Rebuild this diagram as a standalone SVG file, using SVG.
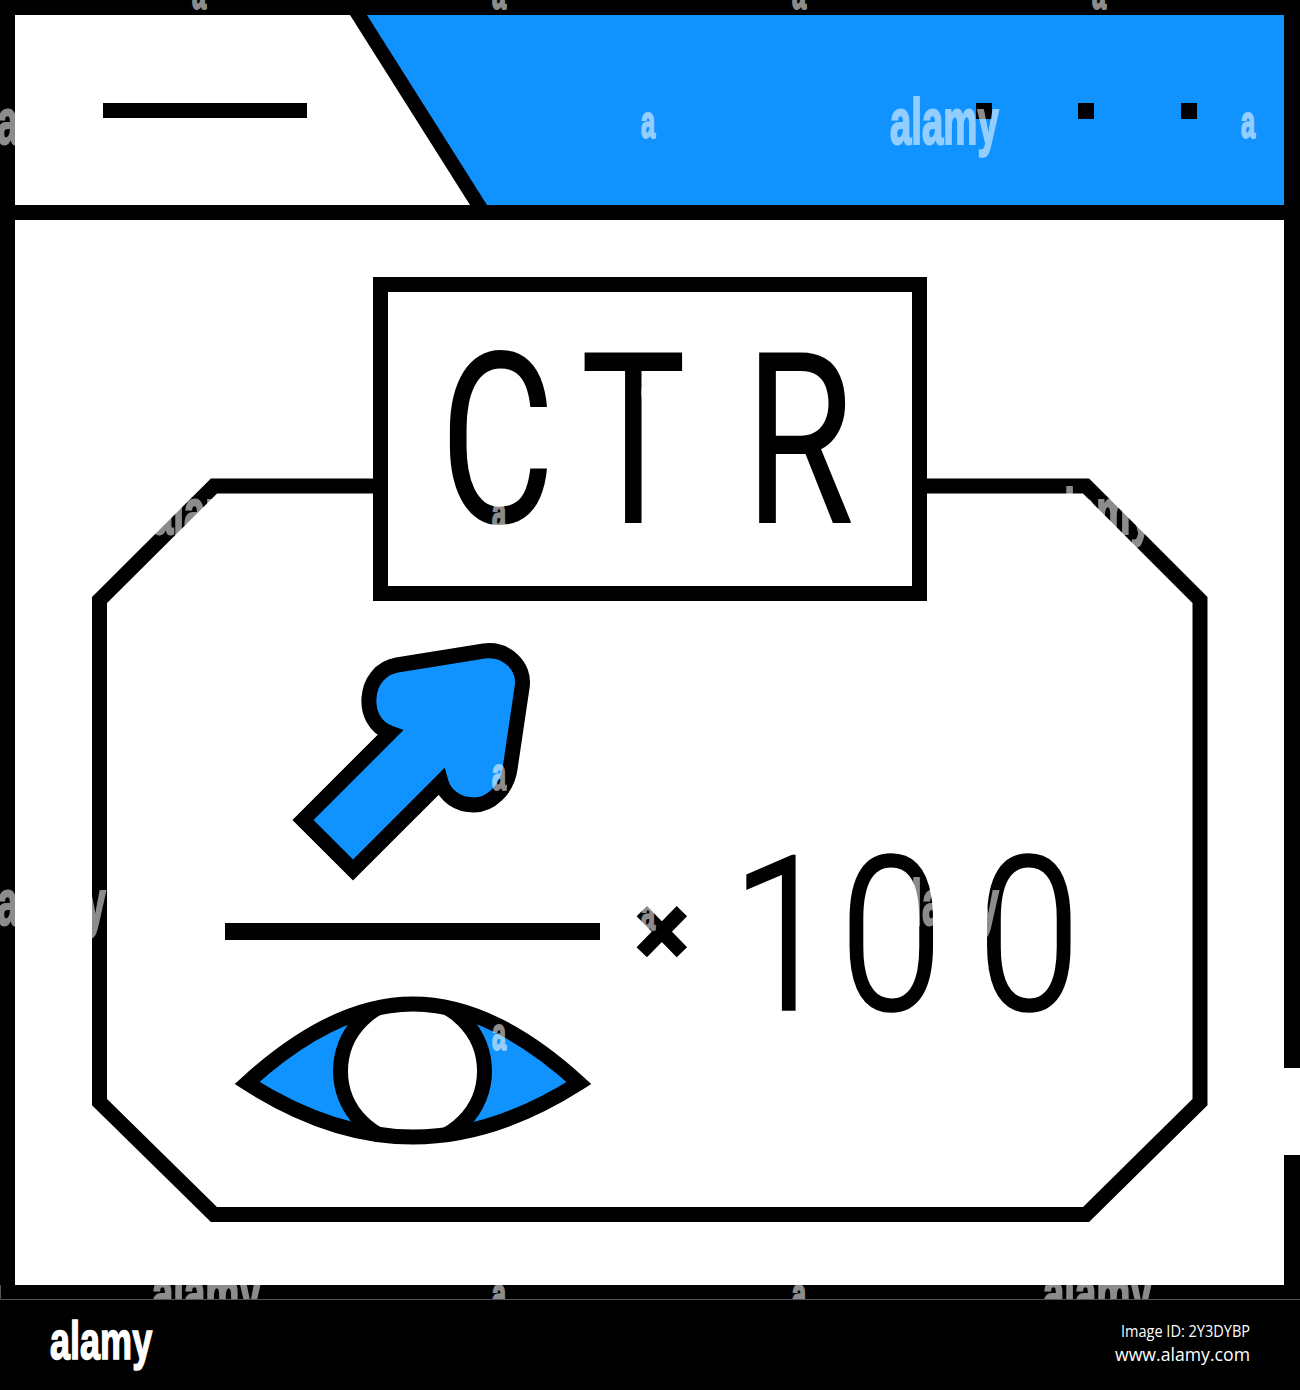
<svg xmlns="http://www.w3.org/2000/svg" width="1300" height="1390" viewBox="0 0 1300 1390">
<style>
.ln{fill:none;stroke:#000;stroke-width:15;stroke-linejoin:miter}
.bl{fill:#1193ff}
.k{fill:#000}
.gl{font-family:Roboto,"Liberation Sans",sans-serif;fill:#000}
.wm{font-family:"Liberation Sans",sans-serif;font-weight:700;fill:#fff;stroke:#fff;stroke-width:2;opacity:.55}
.ft{font-family:"Open Sans","Liberation Sans",sans-serif;fill:#fff}
</style>
<defs>
<path id="eyeShape" d="M247,1083C305,1030 360,1004 413,1004C466,1004 521,1030 579,1083C521,1120 466,1137 413,1137C360,1137 305,1120 247,1083Z"/>
<clipPath id="eyeClip"><use href="#eyeShape"/></clipPath>
<clipPath id="imgClip"><rect width="1300" height="1299"/></clipPath>
</defs>
<rect width="1300" height="1390" fill="#fff"/>
<g id="window">
<path class="bl" d="M359,15H1284V212H481Z"/>
<path class="k" d="M0,0H1300V1068H1284V15H15V1285H1284V1155H1300V1390H0Z"/>
<rect class="k" x="15" y="205" width="1269" height="15"/>
<path class="k" d="M350,15H367L487,205H470Z"/>
<rect class="k" x="103" y="103" width="204" height="15"/>
<rect class="k" x="976" y="103" width="16" height="16"/>
<rect class="k" x="1078" y="103" width="16" height="16"/>
<rect class="k" x="1181" y="103" width="16" height="16"/>
</g>
<g id="frame">
<path class="ln" d="M214,486H1086L1200,600V1102L1086,1214.5H214L99.5,1102V600Z"/>
</g>
<g id="ctr-box">
<rect x="380.5" y="284.5" width="539" height="309" fill="#fff" stroke="#000" stroke-width="15"/>
<text class="gl" font-size="240" transform="translate(0,523) scale(.74,1)" x="594 784 1006">CTR</text>
</g>
<g id="arrow">
<path class="bl" stroke="#000" stroke-width="15" d="M303,820L390,733C374,727 368,712 369,698C370,682 380,668 397,665L484,651C506,648 526,666 522,688L510,769C507,790 490,805 474,805C458,805 445,796 441,782L353,870Z"/>
</g>
<g id="fraction-line"><rect class="k" x="225" y="923" width="375" height="17"/></g>
<g id="eye">
<use href="#eyeShape" class="bl"/>
<circle cx="412.5" cy="1071" r="72" fill="#fff" stroke="#000" stroke-width="15" clip-path="url(#eyeClip)"/>
<use href="#eyeShape" class="ln"/>
</g>
<g id="formula">
<text class="gl" font-weight="700" font-size="100" stroke="#000" stroke-width="3" x="662" y="965" text-anchor="middle">×</text>
<text class="gl" font-size="214" font-weight="300" stroke="#000" stroke-width="3.5" transform="translate(0,1009) scale(.86,1)" x="851 977 1137">100</text>
</g>
<g id="watermark" clip-path="url(#imgClip)">
<text class="wm" font-size="64" transform="translate(890,144) scale(.6,1)">alamy</text>
<text class="wm" font-size="64" transform="translate(890,925) scale(.6,1)">alamy</text>
<text class="wm" font-size="64" transform="translate(-3,925) scale(.6,1)">alamy</text>
<text class="wm" font-size="64" transform="translate(-3,144) scale(.6,1)">a</text>
<text class="wm" font-size="64" transform="translate(152,534) scale(.6,1)">alamy</text>
<text class="wm" font-size="64" transform="translate(1043,534) scale(.6,1)">alamy</text>
<text class="wm" font-size="64" transform="translate(152,1315) scale(.6,1)">alamy</text>
<text class="wm" font-size="64" transform="translate(1043,1315) scale(.6,1)">alamy</text>
<text class="wm" font-size="46" transform="translate(641,138) scale(.55,1)">a</text>
<text class="wm" font-size="46" transform="translate(1241,138) scale(.55,1)">a</text>
<text class="wm" font-size="46" transform="translate(492,790) scale(.55,1)">a</text>
<text class="wm" font-size="46" transform="translate(492,1050) scale(.55,1)">a</text>
<text class="wm" font-size="46" transform="translate(492,529) scale(.55,1)">a</text>
<text class="wm" font-size="46" transform="translate(641,400) scale(.55,1)">a</text>
<text class="wm" font-size="46" transform="translate(641,930) scale(.55,1)">a</text>
<text class="wm" font-size="46" transform="translate(492,1310) scale(.55,1)">a</text>
<text class="wm" font-size="46" transform="translate(792,1310) scale(.55,1)">a</text>
<text class="wm" font-size="46" transform="translate(192,9) scale(.55,1)">a</text>
<text class="wm" font-size="46" transform="translate(492,9) scale(.55,1)">a</text>
<text class="wm" font-size="46" transform="translate(792,9) scale(.55,1)">a</text>
<text class="wm" font-size="46" transform="translate(1092,9) scale(.55,1)">a</text>
</g>
<g id="footer">
<path d="M.5,1285V1299.5H1300" fill="none" stroke="#555"/>
<text font-family="Liberation Sans, sans-serif" font-weight="700" font-size="53" fill="#fff" stroke="#fff" stroke-width="1.5" transform="translate(50,1359) scale(.68,1)">alamy</text>
<text class="ft" font-size="16" x="1121" y="1337" textLength="129" lengthAdjust="spacingAndGlyphs">Image ID: 2Y3DYBP</text>
<text class="ft" font-size="18" x="1115" y="1361" textLength="135" lengthAdjust="spacingAndGlyphs">www.alamy.com</text>
</g>
</svg>
